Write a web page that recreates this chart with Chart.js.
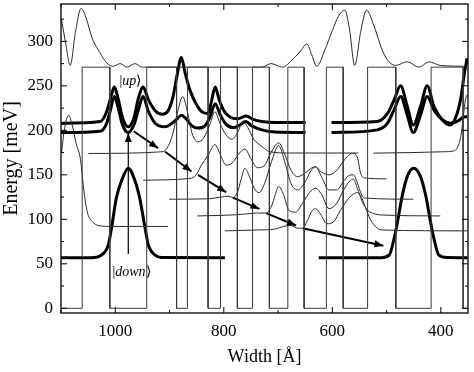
<!DOCTYPE html>
<html>
<head>
<meta charset="utf-8">
<script src="https://cdn.jsdelivr.net/npm/chart.js@4.4.1/dist/chart.umd.min.js"></script>
<style>
  html, body { margin: 0; padding: 0; background: #fff; }
  #wrap { width: 474px; height: 372px; }
</style>
</head>
<body>
<div id="wrap"><canvas id="chart" width="474" height="372"></canvas></div>
<script>
// Layer stack: interface positions (Å) and band level of each layer (meV)
const layerEdges = [1100, 1061, 1010, 942, 887, 867, 829, 806, 775, 747, 716, 682, 652, 611, 580, 535, 483, 418, 359, 350];
const layerLevels = [0, 271, 0, 271, 0, 271, 0, 271, 0, 271, 0, 271, 0, 271, 0, 271, 0, 271, 0];

// Axis ticks
const xMajorTicks = [400, 600, 800, 1000];
const xMinorTicks = [500, 700, 900, 1100];
const yMajorTicks = [0, 50, 100, 150, 200, 250, 300];
const yMinorTicks = [25, 75, 125, 175, 225, 275, 325];

// Top continuum state (thin)
const topStateX = [1099, 1092, 1083, 1073.5, 1063, 1053, 1043.5, 1028, 1016, 1004, 991, 978, 964, 950, 730, 713, 691.5, 676, 660, 647, 638, 628.5, 614, 600, 589, 577, 568.7, 558.7, 548, 537, 523, 508, 495.5, 483.4, 462, 440, 422, 401, 352];
const topStateY = [324, 300, 273, 310, 337, 325, 305, 287, 276, 272, 275, 271, 275, 271, 271, 275, 271, 278, 288, 297, 285, 272, 290, 312, 328, 335, 315, 273, 310, 335, 317, 290, 277, 273, 277, 271, 277, 273, 272];

// |up> states (thick), left and right halves
const upAX1 = [1100, 1027.5, 1016.5, 1009.2, 1001.8, 994.5, 987.1, 976.1, 965.1, 957.8, 948.6, 939.4, 926.5, 913.7, 902.7, 893.5, 886.1, 878.2, 871.4, 862.3, 851.2, 838.4, 829.2, 823.7, 815.8, 808.8, 799.8, 788.8, 774.1, 758.9, 744.7, 730, 706.2, 649.2];
const upAY1 = [208, 210, 220, 235, 248.6, 235, 215, 204, 215, 235, 248.6, 235, 222, 218, 222, 238, 262, 282, 265, 245, 230, 220, 219, 230, 248.6, 235, 222, 215, 213, 216, 212, 210, 208.8, 208.8];
const upBX1 = [1100, 1027.5, 1016.5, 1009.2, 1001.8, 994.5, 987.1, 976.1, 965.1, 957.8, 948.6, 939.4, 926.5, 908.2, 895.3, 886.1, 878.2, 869.6, 858.6, 847.6, 834.7, 825.5, 815.8, 807, 796.2, 781.5, 770.4, 759.4, 748.4, 730, 706.2, 649.2];
const upBY1 = [197.5, 199, 207, 222, 238, 225, 207, 197.5, 207, 222, 238, 222, 208, 204, 208, 213, 217, 213, 205, 202.5, 205, 215, 230, 218, 207, 203, 206, 210, 205, 200.5, 198, 197.5];
const upAX2 = [601.5, 517, 498.3, 486.3, 474.2, 461.9, 450.9, 437.5, 425.2, 412.9, 397.6, 382.4, 370.1, 362.7, 356.7, 351.7];
const upAY2 = [208.8, 210, 219, 234, 250, 227, 206, 227, 250, 227, 212, 206, 219, 238, 264, 281];
const upBX2 = [601.5, 517, 498.3, 486.3, 474.2, 461.9, 450.9, 437.5, 425.2, 412.9, 397.6, 382.4, 370.1, 357.9, 351.7];
const upBY2 = [197.5, 200.5, 208, 223, 238, 217, 197.5, 217, 238, 223, 212, 208, 210, 215, 215.5];

// |down> states (thick), left and right
const downX1 = [1100, 1045, 1025, 1013, 1007, 998, 988, 976, 964, 955, 945, 939, 927, 915, 798];
const downY1 = [56.8, 56.8, 60, 71, 90, 124, 144, 157.5, 144, 124, 90, 71, 60, 57, 56.8];
const downX2 = [625, 510, 495, 486, 480, 471, 462, 450, 437.5, 428, 419, 413, 404, 388, 351];
const downY2 = [56.8, 56.8, 60, 79, 97, 127, 148, 157.5, 148, 127, 97, 79, 60, 57, 56.8];

// Intermediate states (thin)
const leftStateX = [1099, 1094, 1086, 1079, 1072, 1064, 1061, 1057, 1051, 1040, 1026, 1009, 903];
const leftStateY = [175, 200, 217, 205, 185, 167, 150, 128, 107, 96, 92.5, 92, 92];
const stateDX = [1049.6, 911.8, 904.5, 893.5, 884.3, 875.7, 867.8, 858.6, 847.6, 836.6, 825.5, 816.4, 807.2, 796.2, 785.1, 774.1, 764.9, 755.7, 744.7, 730, 715.3, 678.6, 551.9];
const stateDY = [174, 176, 180, 197, 223, 238, 223, 197, 187, 192, 207, 221, 208, 195, 190, 198, 210, 203, 190, 182, 176, 174.5, 174.5];
const stateEX = [948.6, 862, 851, 842, 829, 816.4, 806, 796, 785, 773, 761, 750, 738, 726, 713, 699, 687, 676, 664, 650, 640, 631, 620, 606, 592, 580, 570, 563, 554, 548, 541, 500.5];
const stateEY = [144, 146, 150, 160, 172, 184, 172, 161, 163, 173, 179, 168, 158, 160, 175, 186, 172, 155, 148, 152, 157, 159, 153, 150, 155, 165, 172, 174, 170, 152, 146.5, 145.5];
const stateFX = [900.8, 830, 805, 792, 783, 775, 768, 761, 754, 744, 735, 725, 712, 699, 687, 676, 664, 650, 640, 631, 620, 606, 592, 580, 570, 561, 554, 547, 541, 450.9];
const stateFY = [122.6, 123, 125, 126, 124.5, 130, 145, 157.5, 150, 135, 130, 140, 165, 183, 163, 140, 133, 142, 154, 159, 148, 133, 133, 142, 149, 150, 141, 129, 124, 122.6];
const stateGX = [848.9, 780, 760, 740, 722, 712, 705, 699, 690, 680, 668, 655, 642, 631, 620, 606, 592, 580, 568, 561, 554, 545, 535, 526, 513, 401];
const stateGY = [103.8, 105, 106, 107, 107, 115, 128, 137, 128, 110, 108, 118, 130, 135, 128, 112, 118, 132, 143, 145, 135, 120, 110, 107, 105, 103.8];
const stateHX = [798.5, 737, 706, 690, 676, 664, 655, 645, 638, 631, 622, 610, 598, 585, 572, 562, 555, 548, 540, 530, 517, 508, 351.7];
const stateHY = [87, 88, 89, 92, 93, 90, 90, 100, 109, 112, 106, 95, 97, 110, 122, 128, 130, 127, 115, 100, 90, 88, 87];
const rightStateX = [524.4, 389.7, 375.6, 370.1, 362.7, 354.9, 351.7];
const rightStateY = [174.4, 176, 177, 180, 195, 234, 240];

// Transition arrows (start -> tip)
const arrowFromX = [976, 966, 908, 847.6, 783.3, 722, 654.7];
const arrowFromY = [61, 199, 176, 150, 124.4, 107, 90];
const arrowToX = [976, 921, 859.5, 795.6, 734.3, 667, 506];
const arrowToY = [197, 180, 153.7, 130.5, 111.7, 93, 70.4];

// Ket labels
const ketText = ['up', 'down'];
const ketX = [972, 970];
const ketY = [255, 40];

const serif = "'Liberation Serif', 'Times New Roman', serif";

function xy(xs, ys) {
    return xs.map((x, i) => ({x: x, y: ys[i]}));
}

function curve(xs, ys, width) {
    return {
        data: xy(xs, ys),
        borderColor: width > 2 ? '#000000' : '#2a2a2a',
        borderWidth: width,
        pointRadius: 0,
        fill: false,
        cubicInterpolationMode: 'monotone'
    };
}

function buildProfile() {
    const pts = [];
    for (let i = 0; i < layerLevels.length; i++) {
        pts.push({x: layerEdges[i], y: layerLevels[i]});
        pts.push({x: layerEdges[i + 1], y: layerLevels[i]});
    }
    return pts;
}

const datasets = [
    {data: buildProfile(), borderColor: '#3a3a3a', borderWidth: 1, pointRadius: 0, fill: false, tension: 0},
    curve(topStateX, topStateY, 1),
    curve(leftStateX, leftStateY, 1),
    curve(stateDX, stateDY, 1),
    curve(stateEX, stateEY, 1),
    curve(stateFX, stateFY, 1),
    curve(stateGX, stateGY, 1),
    curve(stateHX, stateHY, 1),
    curve(rightStateX, rightStateY, 1),
    curve(upAX1, upAY1, 3),
    curve(upBX1, upBY1, 3),
    curve(upAX2, upAY2, 3),
    curve(upBX2, upBY2, 3),
    curve(downX1, downY1, 3),
    curve(downX2, downY2, 3)
];

arrowFromX.forEach((x0, i) => {
    datasets.push({
        data: [{x: x0, y: arrowFromY[i]}, {x: arrowToX[i], y: arrowToY[i]}],
        borderColor: '#000000',
        borderWidth: i === 0 ? 1.2 : 2,
        pointRadius: 0,
        fill: false,
        tension: 0
    });
});

const decorations = {
    id: 'decorations',
    afterDatasetsDraw(chart) {
        const {ctx, chartArea: a, scales: {x, y}} = chart;
        ctx.save();
        ctx.strokeStyle = '#000';
        ctx.lineWidth = 1.3;
        ctx.strokeRect(a.left, a.top, a.right - a.left, a.bottom - a.top);

        // inward ticks on all four sides
        ctx.lineWidth = 1;
        const tickX = (v, len) => {
            const p = x.getPixelForValue(v);
            if (p < a.left || p > a.right) return;
            ctx.beginPath();
            ctx.moveTo(p, a.bottom); ctx.lineTo(p, a.bottom - len);
            ctx.moveTo(p, a.top); ctx.lineTo(p, a.top + len);
            ctx.stroke();
        };
        const tickY = (v, len) => {
            const p = y.getPixelForValue(v);
            if (p < a.top || p > a.bottom) return;
            ctx.beginPath();
            ctx.moveTo(a.left, p); ctx.lineTo(a.left + len, p);
            ctx.moveTo(a.right, p); ctx.lineTo(a.right - len, p);
            ctx.stroke();
        };
        xMajorTicks.forEach(v => tickX(v, 6));
        xMinorTicks.forEach(v => tickX(v, 3));
        yMajorTicks.forEach(v => tickY(v, 6));
        yMinorTicks.forEach(v => tickY(v, 3));

        // arrow heads
        ctx.fillStyle = '#000';
        arrowToX.forEach((xv, i) => {
            const tx = x.getPixelForValue(xv), ty = y.getPixelForValue(arrowToY[i]);
            const fx = x.getPixelForValue(arrowFromX[i]), fy = y.getPixelForValue(arrowFromY[i]);
            const ang = Math.atan2(ty - fy, tx - fx);
            const len = 9, half = 3.5;
            ctx.beginPath();
            ctx.moveTo(tx, ty);
            ctx.lineTo(tx - len * Math.cos(ang) + half * Math.sin(ang), ty - len * Math.sin(ang) - half * Math.cos(ang));
            ctx.lineTo(tx - len * Math.cos(ang) - half * Math.sin(ang), ty - len * Math.sin(ang) + half * Math.cos(ang));
            ctx.closePath();
            ctx.fill();
        });

        // ket labels |..>
        ctx.textBaseline = 'middle';
        ketText.forEach((t, i) => {
            const cx = x.getPixelForValue(ketX[i]), cy = y.getPixelForValue(ketY[i]);
            const plain = '14px ' + serif, ital = 'italic 14px ' + serif;
            ctx.font = plain;
            const wBar = ctx.measureText('|').width, wAng = ctx.measureText('\u27E9').width;
            ctx.font = ital;
            const wTxt = ctx.measureText(t).width;
            let px = cx - (wBar + wTxt + wAng) / 2;
            ctx.textAlign = 'left';
            ctx.font = plain; ctx.fillText('|', px, cy); px += wBar;
            ctx.font = ital; ctx.fillText(t, px, cy); px += wTxt;
            ctx.font = plain; ctx.fillText('\u27E9', px, cy);
        });
        ctx.restore();
    }
};

new Chart(document.getElementById('chart'), {
    type: 'line',
    data: {datasets: datasets},
    options: {
        responsive: false,
        animation: false,
        events: [],
        layout: {padding: {top: 4, right: 6, left: 0, bottom: 0}},
        plugins: {legend: {display: false}, tooltip: {enabled: false}},
        scales: {
            x: {
                type: 'linear',
                reverse: true,
                min: 350,
                max: 1100,
                grid: {display: false, drawTicks: false},
                border: {display: false},
                afterBuildTicks: s => { s.ticks = xMajorTicks.map(v => ({value: v})); },
                afterFit: s => { s.height = 59; s.paddingLeft = 0; s.paddingRight = 0; },
                ticks: {color: '#000', padding: 8, maxRotation: 0, font: {family: serif, size: 17}, callback: v => String(v)},
                title: {display: true, text: 'Width [Å]', color: '#000', font: {family: serif, size: 18}, padding: {top: 0, bottom: 4}}
            },
            y: {
                type: 'linear',
                min: -5.3,
                max: 342,
                grid: {display: false, drawTicks: false},
                border: {display: false},
                afterBuildTicks: s => { s.ticks = yMajorTicks.map(v => ({value: v})); },
                afterFit: s => { s.width = 61; s.paddingTop = 0; s.paddingBottom = 0; },
                ticks: {color: '#000', padding: 8, font: {family: serif, size: 17}, callback: v => String(v)},
                title: {display: true, text: 'Energy [meV]', color: '#000', font: {family: serif, size: 20}, padding: {top: 0, bottom: 0}}
            }
        }
    },
    plugins: [decorations]
});
</script>
</body>
</html>
